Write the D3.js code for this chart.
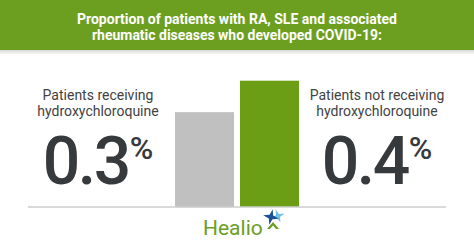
<!DOCTYPE html>
<html>
<head>
<meta charset="utf-8">
<script src="https://cdn.jsdelivr.net/npm/d3@7"></script>
<style>
  html, body { margin: 0; padding: 0; background: #fff; }
  svg { display: block; font-family: Roboto, "Noto Sans", sans-serif; }
</style>
</head>
<body>
<div id="chart"></div>
<script>
const titleLines = ["Proportion of patients with RA, SLE and associated", "rheumatic diseases who developed COVID-19:"];
const groups = ["Patients receiving hydroxychloroquine", "Patients not receiving hydroxychloroquine"];
const groupLabelLines = [["Patients receiving", "hydroxychloroquine"], ["Patients not receiving", "hydroxychloroquine"]];
const values = [0.3, 0.4];
const valueLabels = ["0.3", "0.4"];
const barColors = ["#c0c0c0", "#6b9e14"];

const width = 474, height = 248;
const svg = d3.select("#chart").append("svg")
    .attr("width", width)
    .attr("height", height);

// header band + soft shadow
const defs = svg.append("defs");
const grad = defs.append("linearGradient").attr("id", "shade").attr("x1", 0).attr("y1", 0).attr("x2", 0).attr("y2", 1);
grad.append("stop").attr("offset", "0%").attr("stop-color", "#d8d8d8");
grad.append("stop").attr("offset", "100%").attr("stop-color", "#ffffff");
svg.append("rect").attr("x", 0).attr("y", 50).attr("width", width).attr("height", 5).attr("fill", "url(#shade)");
svg.append("rect").attr("x", 0).attr("y", 0).attr("width", width).attr("height", 50).attr("fill", "#6c9f20");

const titleLens = [320, 290];
svg.append("g").selectAll("text")
    .data(titleLines)
    .join("text")
    .attr("x", width / 2)
    .attr("y", (d, i) => 23.5 + i * 16)
    .attr("text-anchor", "middle")
    .attr("fill", "#fff")
    .attr("font-weight", "bold")
    .attr("font-size", 14.5)
    .attr("textLength", (d, i) => titleLens[i])
    .attr("lengthAdjust", "spacingAndGlyphs")
    .text(d => d);

// bars
const x = d3.scaleBand()
    .domain(groups)
    .range([175, 299])
    .paddingInner(0.092)
    .paddingOuter(0);

const y = d3.scaleLinear()
    .domain([0, 0.4])
    .range([206.5, 80.7]);

svg.append("g")
    .selectAll("rect")
    .data(values)
    .join("rect")
    .attr("x", (d, i) => x(groups[i]))
    .attr("y", d => y(d))
    .attr("width", x.bandwidth())
    .attr("height", d => y(0) - y(d))
    .attr("fill", (d, i) => barColors[i]);

svg.append("line")
    .attr("x1", 28).attr("x2", 446)
    .attr("y1", y(0) + 0.5).attr("y2", y(0) + 0.5)
    .attr("stroke", "#b4b4b4")
    .attr("stroke-width", 1);

// side labels
const centers = [98, 377];
groupLabelLines.forEach((lines, i) => {
    svg.append("g").selectAll("text")
        .data(lines)
        .join("text")
        .attr("x", centers[i])
        .attr("y", (d, j) => 100 + j * 15.5)
        .attr("text-anchor", "middle")
        .attr("fill", "#3f4245")
        .attr("font-size", 14)
        .text(d => d);

    const num = svg.append("text")
        .attr("x", centers[i])
        .attr("y", 184)
        .attr("text-anchor", "middle")
        .attr("fill", "#373a3d")
        .attr("font-size", 66)
        .attr("font-weight", 500)
        .attr("letter-spacing", -2.5);
    num.append("tspan").text(valueLabels[i]);
    num.append("tspan")
        .attr("font-size", 32)
        .attr("dy", -25)
        .attr("dx", 1)
        .attr("letter-spacing", 0)
        .text("%");
});

// logo
svg.append("text")
    .attr("x", 203)
    .attr("y", 235)
    .attr("fill", "#6a9e24")
    .attr("font-size", 21)
    .text("Healio");

const star = (cx, cy, r1, r2, n) => d3.range(n * 2).map(k => {
    const a = -Math.PI / 2 + k * Math.PI / n;
    const r = k % 2 ? r2 : r1;
    return [cx + r * Math.cos(a), cy + r * Math.sin(a)];
});
svg.append("polygon")
    .attr("points", star(278, 216, 7, 2.2, 4).join(" "))
    .attr("fill", "#6fc0ea")
    .attr("transform", "rotate(-20 278 216)");
svg.append("polygon")
    .attr("points", star(271, 217, 8, 2.6, 4).join(" "))
    .attr("fill", "#1d4f96")
    .attr("transform", "rotate(12 271 217)");
svg.append("path")
    .attr("d", "M267,229 L273,222 L279,229 L276,229 L273,225.5 L270,229 Z")
    .attr("fill", "#6a9e24");
</script>
</body>
</html>
